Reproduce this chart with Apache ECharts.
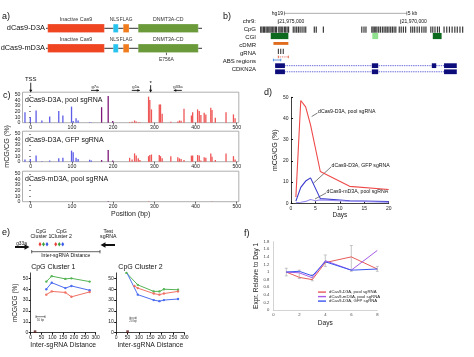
<!DOCTYPE html>
<html><head><meta charset="utf-8">
<script src="https://cdn.jsdelivr.net/npm/echarts@6/dist/echarts.min.js"></script>
<style>html,body{margin:0;padding:0;background:#fff}#c{width:474px;height:357px}</style>
</head><body><div id="c"></div><script>
const FONT = 'Liberation Sans, Arial, Helvetica, sans-serif';

// ---------- Panel a: constructs ----------
const constructs = ['dCas9-D3A', 'dCas9-mD3A'];
const domainNames = ['Inactive Cas9', 'NLS', 'FLAG', 'DNMT3A-CD'];
const domainStart = [11, 431, 495, 591];
const domainEnd = [374, 463, 532, 976];
const domainColors = ['#ef4520', '#25c3ee', '#f07c1e', '#6b9a3b'];
const domainLabelSize = [5.4, 4.8, 4.8, 5.2];
const mutationNames = ['E756A'];
const mutationPos = [772];
const mutationRow = [1];

// ---------- Panel b: genome browser (kb, hg19 chr9) ----------
const trackNames = ['chr9:', 'CpG', 'CGI', 'cDMR', 'gRNA', 'ABS regions', 'CDKN2A'];
const chrTickPos = [21975, 21970];
const chrTickLabels = ['21,975,000', '21,970,000'];
const scaleBar = [21974.75, 21969.75];
const cpgSites = [21975.72,21975.67,21975.61,21975.56,21975.50,21975.45,21975.39,21975.34,21975.29,21975.23,21975.18,21975.12,21975.07,
  21974.98,21974.93,21974.88,21974.82,21974.75,21974.70,21974.64,21974.58,21974.39,21974.32,21974.25,21974.18,21974.11,21974.03,21973.95,21973.88,
  21973.53,21973.45,21973.16,21971.59,21971.50,21971.42,21971.18,21971.13,21971.08,21971.02,21970.97,21970.90,21970.83,21970.75,21970.68,21970.61,
  21970.55,21970.48,21970.41,21970.34,21970.27,21970.20,21970.06,21969.98,21969.89,21969.80,21969.59,21969.51,21969.43,21969.33,21969.24,21969.14,
  21969.05,21968.97,21968.77,21968.69,21968.60,21968.50,21968.42,21968.23,21968.12,21968.01,21967.90,21967.79,21967.69,21967.58,21967.47];
const cgiStart = [21975.31, 21971.16, 21968.69];
const cgiEnd = [21974.59, 21970.92, 21968.33];
const cgiStrong = [true, false, true];
const cdmrStart = [21975.20];
const cdmrEnd = [21974.59];
const gRNASites = [21975.00, 21974.90, 21974.80];
const absStart = [21975.20, 21975.00];
const absEnd = [21974.90, 21974.59];
const absSet = ['blue', 'red'];
const geneStart = [21975.13, 21975.13];
const geneEnd = [21967.71, 21967.71];
const exonsIso1 = [[21975.13,21974.73],[21971.18,21970.92],[21968.73,21968.55],[21968.23,21967.71]];
const exonsIso2 = [[21975.13,21974.73],[21971.18,21970.92],[21968.23,21967.71]];

// ---------- Panel c: methylation per CpG ----------
const cpgPositions = [-14,-1,13,27,46,68,78,99,103,110,115,143,147,172,188,199,240,246,252,256,261,265,286,289,293,312,315,319,340,357,361,365,372,390,393,405,409,413,421,425,437,440,448,474,492,496];
const methD3APool = [19,10,22,4,11,21,13,29,3,8,4,1,0.5,28,48,3,1,1.5,4,2,1,1,47,41,24,33,33,16,1.5,2,4,3.5,25,13,19,24,21,14,18,15,27,23,9,19,15,8];
const methD3AGfp = [4,5,11,1,2,6,7,20,17,7,5,3.5,2,3,21,2,7,4,15,11,6,3,10,12,13,12,10,6,10,8,6,5,3,11,11,12,11,2,8,7,15,9,3,15,10,4];
const methMD3APool = [0,0,0,0,0,0,0,0,0,0,0,0,0,0,0.8,0,0,0,0,0,0,0,0.7,0,0,0,0,0,0,0,0,0,0,0,0,0,0,0,0,0,0,0.5,0,0,0,0];
const sampleTitles = ['dCas9-D3A, pool sgRNA', 'dCas9-D3A, GFP sgRNA', 'dCas9-mD3A, pool sgRNA'];
const sgRNANames = ['TSS', 'g7a', 'g1a', '*', 'g33a'];
const sgRNAPos = [0, 156, 255, 291, 357];
const sgRNADir = ['down', 'right', 'right', 'down', 'left'];
const cTicks = [0, 100, 200, 300, 400, 500];
const pctTicks = [0, 10, 20, 30, 40, 50];

// ---------- Panel d: time course ----------
const dD3APool = [[1,3],[2,48.5],[3,45.5],[4,37],[6,15],[12,8],[20,6.5]];
const dD3AGfp = [[1,1],[2,7.5],[3,10.5],[4,12],[6,2.2],[12,1.2],[20,0.8]];
const dMD3APool = [[1,0.3],[2,0.5],[3,0.9],[4,1.8],[5,1.2],[6,1.6],[12,1],[20,0.5]];

// ---------- Panel e: distance series ----------
const distC1 = [72, 97, 160, 188, 272];
const c1Green = [47, 52, 49.5, 50, 47];
const c1Blue = [40, 46, 41, 43, 39];
const c1Red = [35, 38, 37, 33, 37.5];
const c1Control = [[20, 1]];
const distC2 = [45, 95, 165, 190, 210, 272];
const c2Green = [55, 44, 38, 38, 40, 39.5];
const c2Blue = [56, 35, 30, 29, 30, 31];
const c2Red = [null, 41, 36, 35, 36, 38];
const c2RedStart = [80, 43];
const c2Control = [[50, 1]];

// ---------- Panel f: expression ----------
const daysF = [1, 2, 3, 4, 6, 8];
const exprD3APool = [1.0, 0.86, 0.8, 1.25, 1.4, 1.08];
const exprMD3APool = [1.0, 0.98, 0.85, 1.3, 1.05, 1.57];
const exprD3AGfp = [1.0, 1.02, 0.9, 1.27, 1.05, 1.08];
const errLow = [0.9, 0.83, 0.77, 1.15, 1.02, 1.02];
const errHigh = [1.1, 1.05, 0.93, 1.45, 1.7, 1.15];

// ================= build ===================
const chart = echarts.init(document.getElementById('c'));
const bandH = api => api.size([0, 1])[1];
const txt = (text, x, y, size, extra) => Object.assign({type: 'text', style: Object.assign({text, x, y, fontSize: size, fontFamily: FONT, fill: '#111', verticalAlign: 'middle'}, extra || {})});

const gridBase = {outerBoundsMode: 'none', containLabel: false};
const cBox = {show: true, borderColor: '#9a9a9a', borderWidth: 0.8, backgroundColor: 'transparent'};
const grids = [
  Object.assign({left: 46, top: 18.3, width: 156, height: 40}, gridBase),
  Object.assign({left: 258, top: 17.7, width: 212, height: 55.5}, gridBase),
  Object.assign({left: 22.5, top: 92.2, width: 216.3, height: 30.5}, cBox, gridBase),
  Object.assign({left: 22.5, top: 131.2, width: 216.3, height: 30.5}, cBox, gridBase),
  Object.assign({left: 22.5, top: 171.2, width: 216.3, height: 30.5}, cBox, gridBase),
  Object.assign({left: 291, top: 97.3, width: 97.7, height: 106}, gridBase),
  Object.assign({left: 30.7, top: 272.9, width: 65, height: 59.8}, gridBase),
  Object.assign({left: 116.2, top: 272.9, width: 68.2, height: 59.8}, gridBase),
  Object.assign({left: 273.3, top: 241.7, width: 104, height: 68.3}, gridBase)
];

const lab = (size, extra) => Object.assign({fontSize: size, fontFamily: FONT, color: '#222'}, extra || {});
const cX = g => ({gridIndex: g, type: 'value', min: -20, max: 505, axisLine: {show: false}, splitLine: {show: false},
  axisTick: {show: true, length: 2, customValues: cTicks, lineStyle: {color: '#666'}},
  axisLabel: {customValues: cTicks, margin: 2.5, ...lab(5.2)},
  name: g === 4 ? 'Position (bp)' : '', nameLocation: 'middle', nameGap: 7, nameTextStyle: lab(7)});
const cY = g => ({gridIndex: g, type: 'value', min: 0, max: 55, axisLine: {show: false}, splitLine: {show: false},
  axisTick: {show: true, length: 1.5, customValues: pctTicks, lineStyle: {color: '#666'}},
  axisLabel: {show: true, customValues: pctTicks, margin: 2, ...lab(5.2)},
  name: g === 3 ? 'mCG/CG (%)' : '', nameLocation: 'middle', nameGap: 10.5, nameTextStyle: lab(7.2)});
const eX = g => ({gridIndex: g, type: 'value', min: 0, max: 300, interval: 50, splitLine: {show: false},
  axisLine: {lineStyle: {color: '#111', width: 0.8}}, axisTick: {length: 2, lineStyle: {color: '#111'}},
  axisLabel: {margin: 2.5, ...lab(5)}, name: 'Inter-sgRNA Distance', nameLocation: 'middle', nameGap: 9, nameTextStyle: lab(6.8)});
const eY = g => ({gridIndex: g, type: 'value', min: 0, max: 55, splitLine: {show: false},
  axisLine: {lineStyle: {color: '#111', width: 0.8}}, axisTick: {length: 2, customValues: pctTicks, lineStyle: {color: '#111'}},
  axisLabel: {customValues: pctTicks, margin: 2.5, ...lab(5)},
  name: g === 6 ? 'mCG/CG (%)' : '', nameLocation: 'middle', nameGap: 11, nameTextStyle: lab(6.5)});

const xAxes = [
  {gridIndex: 0, type: 'value', min: 0, max: 1000, show: false},
  {gridIndex: 1, type: 'value', min: 21967.17, max: 21975.83, inverse: true, show: false},
  cX(2), cX(3), cX(4),
  {gridIndex: 5, type: 'value', min: 0, max: 20, interval: 5, splitLine: {show: false},
    axisLine: {lineStyle: {color: '#111', width: 0.8}}, axisTick: {inside: true, length: 2, lineStyle: {color: '#111'}},
    axisLabel: {margin: 2.5, ...lab(5)}, name: 'Days', nameLocation: 'middle', nameGap: 8, nameTextStyle: lab(6.5)},
  eX(6), eX(7),
  {gridIndex: 8, type: 'value', min: 0, max: 8, interval: 2, splitLine: {show: false},
    axisLine: {lineStyle: {color: '#c8c8c8', width: 0.8}}, axisTick: {show: false},
    axisLabel: {margin: 3, ...lab(4.2, {color: '#444'})}, name: 'Days', nameLocation: 'middle', nameGap: 10, nameTextStyle: lab(6.6)}
];
const yAxes = [
  {gridIndex: 0, type: 'category', data: constructs, inverse: true, axisLine: {show: false}, axisTick: {show: false},
    axisLabel: {margin: 1, ...lab(7.4, {color: '#111'})}},
  {gridIndex: 1, type: 'category', data: trackNames, inverse: true, axisLine: {show: false}, axisTick: {show: false},
    axisLabel: {margin: 2, ...lab(6, {color: '#111'})}},
  cY(2), cY(3), cY(4),
  {gridIndex: 5, type: 'value', min: 0, max: 50, interval: 10, splitLine: {show: false},
    axisLine: {show: true, lineStyle: {color: '#111', width: 0.8}}, axisTick: {show: true, inside: true, length: 2, lineStyle: {color: '#111'}},
    axisLabel: {margin: 2.5, ...lab(5)}, name: 'mCG/CG (%)', nameLocation: 'middle', nameGap: 10, nameTextStyle: lab(7)},
  eY(6), eY(7),
  {gridIndex: 8, type: 'value', min: 0, max: 1.8, interval: 0.2, splitLine: {show: false},
    axisLine: {show: true, lineStyle: {color: '#c8c8c8', width: 0.8}}, axisTick: {show: false},
    axisLabel: {margin: 4, ...lab(4.2, {color: '#444'})}, name: 'Expr. Relative to Day 1', nameLocation: 'middle', nameGap: 13, nameTextStyle: lab(6.5)}
];

const series = [];

// ---- panel a
series.push({type: 'custom', xAxisIndex: 0, yAxisIndex: 0, encode: {x: [0, 1], y: 2},
  data: constructs.map((c, i) => [0, 1000, i]),
  renderItem: (p, api) => {
    const s = api.coord([api.value(0), api.value(2)]), e = api.coord([api.value(1), api.value(2)]);
    return {type: 'line', shape: {x1: s[0], y1: s[1], x2: e[0], y2: e[1]}, style: {stroke: '#333', lineWidth: 1}};
  }});
const domainData = [];
constructs.forEach((c, i) => domainNames.forEach((d, j) => domainData.push([domainStart[j], domainEnd[j], i, j])));
series.push({type: 'custom', xAxisIndex: 0, yAxisIndex: 0, encode: {x: [0, 1], y: 2}, data: domainData,
  renderItem: (p, api) => {
    const j = api.value(3);
    const s = api.coord([api.value(0), api.value(2)]), e = api.coord([api.value(1), api.value(2)]);
    const b = bandH(api), h = b * 0.42;
    return {type: 'group', children: [
      {type: 'rect', shape: {x: s[0], y: s[1] - h / 2, width: e[0] - s[0], height: h}, style: {fill: domainColors[j], stroke: 'rgba(255,255,255,0.35)', lineWidth: 0.6}},
      txt(domainNames[j], (s[0] + e[0]) / 2 + (j === 1 ? -1.2 : 0), s[1] - b * 0.45, domainLabelSize[j], {align: 'center', fill: '#333'})
    ]};
  }});
series.push({type: 'custom', xAxisIndex: 0, yAxisIndex: 0, encode: {x: 0, y: 1},
  data: mutationPos.map((m, i) => [m, mutationRow[i]]),
  renderItem: (p, api) => {
    const c = api.coord([api.value(0), api.value(1)]), b = bandH(api);
    return {type: 'group', children: [
      {type: 'line', shape: {x1: c[0], y1: c[1] + b * 0.22, x2: c[0], y2: c[1] + b * 0.34}, style: {stroke: '#333', lineWidth: 0.8}},
      txt(mutationNames[p.dataIndex], c[0], c[1] + b * 0.55, 5, {align: 'center', fill: '#333'})
    ]};
  }});

// ---- panel b
series.push({type: 'custom', xAxisIndex: 1, yAxisIndex: 1, encode: {x: 0, y: 1},
  data: chrTickPos.map(v => [v, 0]),
  renderItem: (p, api) => {
    const c = api.coord([api.value(0), 0]);
    return {type: 'group', children: [
      {type: 'line', shape: {x1: c[0], y1: c[1] - 2.3, x2: c[0], y2: c[1] + 2.3}, style: {stroke: '#222', lineWidth: 0.7}},
      txt(chrTickLabels[p.dataIndex], c[0] + 1, c[1], 5, {fill: '#111'})
    ]};
  }});
series.push({type: 'custom', xAxisIndex: 1, yAxisIndex: 1, encode: {x: [0, 1], y: 2},
  data: [[scaleBar[0], scaleBar[1], 0]],
  renderItem: (p, api) => {
    const s = api.coord([api.value(0), 0]), e = api.coord([api.value(1), 0]);
    const y = s[1] - bandH(api) * 1.05;
    return {type: 'group', children: [
      {type: 'line', shape: {x1: s[0], y1: y, x2: e[0], y2: y}, style: {stroke: '#888', lineWidth: 0.7}},
      {type: 'line', shape: {x1: s[0], y1: y - 2, x2: s[0], y2: y + 2}, style: {stroke: '#555', lineWidth: 0.7}},
      {type: 'line', shape: {x1: e[0], y1: y - 2, x2: e[0], y2: y + 2}, style: {stroke: '#555', lineWidth: 0.7}},
      txt('hg19', s[0] - 1.5, y + 0.6, 5, {align: 'right'}),
      txt('5 kb', e[0] + 1, y + 0.3, 5)
    ]};
  }});
series.push({type: 'custom', xAxisIndex: 1, yAxisIndex: 1, encode: {x: 0, y: 1},
  data: cpgSites.map(v => [v, 1]),
  renderItem: (p, api) => {
    const c = api.coord([api.value(0), 1]), h = bandH(api) * 0.78;
    return {type: 'rect', shape: {x: c[0] - 0.6, y: c[1] - h / 2, width: 1.2, height: h}, style: {fill: '#3a3a3a'}};
  }});
series.push({type: 'custom', xAxisIndex: 1, yAxisIndex: 1, encode: {x: [0, 1], y: 2},
  data: cgiStart.map((s, i) => [s, cgiEnd[i], 2, i]),
  renderItem: (p, api) => {
    const s = api.coord([api.value(0), 2]), e = api.coord([api.value(1), 2]), h = bandH(api) * 0.78;
    return {type: 'rect', shape: {x: s[0], y: s[1] - 1.5 - h / 2, width: e[0] - s[0], height: h},
      style: {fill: cgiStrong[api.value(3)] ? '#0b6a1d' : '#8fe08f'}};
  }});
series.push({type: 'custom', xAxisIndex: 1, yAxisIndex: 1, encode: {x: [0, 1], y: 2},
  data: cdmrStart.map((s, i) => [s, cdmrEnd[i], 3]),
  renderItem: (p, api) => {
    const s = api.coord([api.value(0), 3]), e = api.coord([api.value(1), 3]), h = bandH(api) * 0.36;
    return {type: 'rect', shape: {x: s[0], y: s[1] - 2 - h / 2, width: e[0] - s[0], height: h}, style: {fill: '#e06d1f'}};
  }});
series.push({type: 'custom', xAxisIndex: 1, yAxisIndex: 1, encode: {x: 0, y: 1},
  data: gRNASites.map(v => [v, 4]),
  renderItem: (p, api) => {
    const c = api.coord([api.value(0), 4]), h = bandH(api) * 0.65;
    return {type: 'rect', shape: {x: c[0] - 0.45, y: c[1] - 2 - h / 2, width: 0.9, height: h}, style: {fill: '#111'}};
  }});
series.push({type: 'custom', xAxisIndex: 1, yAxisIndex: 1, encode: {x: [0, 1], y: 2},
  data: absStart.map((s, i) => [s, absEnd[i], 5, i]),
  renderItem: (p, api) => {
    const red = absSet[api.value(3)] === 'red';
    const s = api.coord([api.value(0), 5]), e = api.coord([api.value(1), 5]);
    const y = s[1] + (red ? -4.4 : -1.3), col = red ? '#e0503a' : '#3a7ad8';
    const st = {stroke: col, lineWidth: 0.8};
    return {type: 'group', children: [
      {type: 'line', shape: {x1: s[0], y1: y, x2: e[0], y2: y}, style: Object.assign({lineDash: red ? [1, 0.8] : null}, st)},
      {type: 'line', shape: {x1: s[0], y1: y - 1.3, x2: s[0], y2: y + 1.3}, style: st},
      {type: 'line', shape: {x1: e[0], y1: y - 1.3, x2: e[0], y2: y + 1.3}, style: st}
    ]};
  }});
series.push({type: 'custom', xAxisIndex: 1, yAxisIndex: 1, encode: {x: [0, 1], y: 2},
  data: geneStart.map((s, i) => [s, geneEnd[i], 6, i]),
  renderItem: (p, api) => {
    const iso = api.value(3), b = bandH(api);
    const s = api.coord([api.value(0), 6]), e = api.coord([api.value(1), 6]);
    const y = s[1] + (iso === 0 ? -0.45 : 0.32) * b;
    const kids = [{type: 'line', shape: {x1: s[0], y1: y, x2: e[0], y2: y}, style: {stroke: '#5a5ad6', lineWidth: 0.9, lineDash: [1.4, 0.9]}}];
    (iso === 0 ? exonsIso1 : exonsIso2).forEach(ex => {
      const a = api.coord([ex[0], 6]), c = api.coord([ex[1], 6]);
      kids.push({type: 'rect', shape: {x: a[0], y: y - b * 0.3, width: c[0] - a[0], height: b * 0.6}, style: {fill: '#0c0c7a'}});
    });
    return {type: 'group', children: kids};
  }});

// ---- panel c
const barColor = p => { const x = p.value[0]; return x < 165 ? '#5d5de8' : (x < 205 ? '#7d1a79' : '#ef5656'); };
[methD3APool, methD3AGfp, methMD3APool].forEach((vals, k) => {
  series.push({type: 'bar', xAxisIndex: 2 + k, yAxisIndex: 2 + k, barWidth: 1.3, barGap: '-100%',
    data: cpgPositions.map((pos, i) => [pos, vals[i]]), itemStyle: {color: barColor}, silent: true});
});
series.push({type: 'custom', xAxisIndex: 2, yAxisIndex: 2, encode: {x: 0, y: 1}, clip: false,
  data: sgRNAPos.map(v => [v, 55]),
  renderItem: (p, api) => {
    const i = p.dataIndex, c = api.coord([api.value(0), 55]), x = c[0], top = c[1];
    const dir = sgRNADir[i];
    if (dir === 'down') {
      const isTSS = sgRNANames[i] === 'TSS';
      const y0 = top - (isTSS ? 9.5 : 7);
      return {type: 'group', children: [
        txt(sgRNANames[i], x, top - (isTSS ? 12.5 : 9.3), 6, {align: 'center'}),
        {type: 'line', shape: {x1: x, y1: y0, x2: x, y2: top - 1.5}, style: {stroke: '#111', lineWidth: 0.9}},
        {type: 'polygon', shape: {points: [[x - 1.6, top - 2.5], [x + 1.6, top - 2.5], [x, top + 0.3]]}, style: {fill: '#111'}}
      ]};
    }
    const y = top - 1.8, x1 = x - 4, x2 = x + 4;
    const hx = dir === 'right' ? x2 : x1, back = dir === 'right' ? -2.4 : 2.4;
    return {type: 'group', children: [
      txt(sgRNANames[i], x, top - 5, 4.2, {align: 'center'}),
      {type: 'line', shape: {x1: x1, y1: y, x2: x2, y2: y}, style: {stroke: '#111', lineWidth: 0.9}},
      {type: 'polygon', shape: {points: [[hx + back, y - 1.4], [hx + back, y + 1.4], [hx, y]]}, style: {fill: '#111'}}
    ]};
  }});

// ---- panel d
const dLine = (data, color) => ({type: 'line', xAxisIndex: 5, yAxisIndex: 5, data, symbol: 'none', lineStyle: {color, width: 1.1}, silent: true});
series.push(dLine(dD3APool, '#ee4a4a'), dLine(dD3AGfp, '#3838cc'), dLine(dMD3APool, '#9a8ff0'));

// ---- panel e
const eLine = (g, xs, ys, color) => ({type: 'line', xAxisIndex: g, yAxisIndex: g, data: xs.map((x, i) => [x, ys[i]]).filter(d => d[1] != null),
  symbol: 'circle', symbolSize: 2.4, itemStyle: {color}, lineStyle: {color, width: 1}, silent: true});
series.push(eLine(6, distC1, c1Green, '#55b455'), eLine(6, distC1, c1Blue, '#4d6ef0'), eLine(6, distC1, c1Red, '#f07264'));
series.push(eLine(7, distC2, c2Green, '#55b455'), eLine(7, distC2, c2Blue, '#4d6ef0'));
series.push(Object.assign(eLine(7, distC2, c2Red, '#f07264'), {data: [c2RedStart].concat(distC2.map((x, i) => [x, c2Red[i]]).filter(d => d[1] != null))}));
series.push({type: 'scatter', xAxisIndex: 6, yAxisIndex: 6, data: c1Control, symbol: 'rect', symbolSize: 2.6, itemStyle: {color: '#5a1a1a'}});
series.push({type: 'scatter', xAxisIndex: 7, yAxisIndex: 7, data: c2Control, symbol: 'rect', symbolSize: 2.6, itemStyle: {color: '#5a1a1a'}});

// ---- panel f
series.push({type: 'custom', xAxisIndex: 8, yAxisIndex: 8, encode: {x: 0, y: [1, 2]},
  data: daysF.map((d, i) => [d, errLow[i], errHigh[i]]),
  renderItem: (p, api) => {
    const lo = api.coord([api.value(0), api.value(1)]), hi = api.coord([api.value(0), api.value(2)]);
    const st = {stroke: '#b8b8b8', lineWidth: 0.8};
    return {type: 'group', children: [
      {type: 'line', shape: {x1: lo[0], y1: lo[1], x2: hi[0], y2: hi[1]}, style: st},
      {type: 'line', shape: {x1: lo[0] - 1.5, y1: lo[1], x2: lo[0] + 1.5, y2: lo[1]}, style: st},
      {type: 'line', shape: {x1: hi[0] - 1.5, y1: hi[1], x2: hi[0] + 1.5, y2: hi[1]}, style: st}
    ]};
  }});
const fLine = (name, vals, color) => ({name, type: 'line', xAxisIndex: 8, yAxisIndex: 8, data: daysF.map((d, i) => [d, vals[i]]),
  symbol: 'none', itemStyle: {color}, lineStyle: {color, width: 1}, silent: true});
series.push(fLine('dCas9-D3A, pool sgRNA', exprD3APool, '#e65a5a'),
  fLine('dCas9-mD3A, pool sgRNA', exprMD3APool, '#a65ae6'),
  fLine('dCas9-D3A, GFP sgRNA', exprD3AGfp, '#3a55f0'));

// ---- static annotations
const g = [];
[['a)', 2, 16.5], ['b)', 223, 17], ['c)', 3, 95.5], ['d)', 264, 93], ['e)', 2, 233], ['f)', 244, 234]].forEach(t => g.push(txt(t[0], t[1], t[2], 9)));
sampleTitles.forEach((t, i) => g.push(txt(t, 25, [100, 140, 179.5][i], 7)));
// d annotations
[['dCas9-D3A, pool sgRNA', 318, 112, 311.7, 116.5], ['dCas9-D3A, GFP sgRNA', 331.5, 166, 313.3, 183.3], ['dCas9-mD3A, pool sgRNA', 326.5, 192, 315, 199]].forEach(a => {
  g.push(txt(a[0], a[1], a[2], 5.2));
  g.push({type: 'line', shape: {x1: a[3], y1: a[4], x2: a[1] - 0.5, y2: a[2] + 1}, style: {stroke: '#222', lineWidth: 0.6}});
});
// e schematic
g.push(txt('g33a', 21.5, 243.2, 4.8, {align: 'center'}));
g.push({type: 'polygon', shape: {points: [[15, 246], [24.5, 246], [24.5, 244.2], [29.5, 247], [24.5, 249.8], [24.5, 248], [15, 248]]}, style: {fill: '#111'}});
g.push({type: 'polygon', shape: {points: [[115, 244], [105.5, 244], [105.5, 242.2], [100.5, 245], [105.5, 247.8], [105.5, 246], [115, 246]]}, style: {fill: '#111'}});
[['CpG', 41, 231.7], ['Cluster 1', 41, 236.7], ['CpG', 61.5, 231.7], ['Cluster 2', 61.5, 236.7], ['Test', 108.3, 231.7], ['sgRNA', 108.3, 236.7]]
  .forEach(t => g.push(txt(t[0], t[1], t[2], 5.2, {align: 'center'})));
[[40, '#e8403a'], [43.5, '#3aa03a'], [47, '#3a5ae8'], [55.7, '#e8403a'], [59.3, '#3aa03a'], [62.7, '#3a5ae8']].forEach(d =>
  g.push({type: 'polygon', shape: {points: [[d[0], 242], [d[0] + 1.5, 244.2], [d[0], 246.4], [d[0] - 1.5, 244.2]]}, style: {fill: d[1]}}));
g.push({type: 'line', shape: {x1: 31.7, y1: 251.7, x2: 100, y2: 251.7}, style: {stroke: '#222', lineWidth: 0.7}});
g.push({type: 'line', shape: {x1: 31.7, y1: 250, x2: 31.7, y2: 253.4}, style: {stroke: '#222', lineWidth: 0.7}});
g.push({type: 'line', shape: {x1: 100, y1: 250, x2: 100, y2: 253.4}, style: {stroke: '#222', lineWidth: 0.7}});
g.push(txt('Inter-sgRNA Distance', 65.8, 255.6, 5.1, {align: 'center'}));
g.push(txt('CpG Cluster 1', 53.3, 266.7, 7, {align: 'center'}));
g.push(txt('CpG Cluster 2', 140.5, 266.7, 7, {align: 'center'}));
[[36, 45, 316.7, '50 bp'], [130, 136, 318, '20 bp']].forEach(s => {
  const st = {stroke: '#333', lineWidth: 0.6};
  g.push({type: 'line', shape: {x1: s[0], y1: s[2], x2: s[1], y2: s[2]}, style: st});
  g.push({type: 'line', shape: {x1: s[0], y1: s[2] - 1.3, x2: s[0], y2: s[2] + 1.3}, style: st});
  g.push({type: 'line', shape: {x1: s[1], y1: s[2] - 1.3, x2: s[1], y2: s[2] + 1.3}, style: st});
  g.push(txt(s[3], (s[0] + s[1]) / 2, s[2] + 3.3, 3, {align: 'center', fill: '#444'}));
});

chart.setOption({
  animation: false,
  backgroundColor: '#fff',
  textStyle: {fontFamily: FONT},
  grid: grids, xAxis: xAxes, yAxis: yAxes, series,
  legend: {data: ['dCas9-D3A, pool sgRNA', 'dCas9-mD3A, pool sgRNA', 'dCas9-D3A, GFP sgRNA'], orient: 'vertical', left: 318, top: 290,
    itemWidth: 8, itemHeight: 1.4, itemGap: 0.3, icon: 'rect', padding: 0, textStyle: {fontSize: 4.3, lineHeight: 4.2, fontFamily: FONT, color: '#222', padding: [0, 0, 0, -2]}},
  graphic: g
});
</script></body></html>
